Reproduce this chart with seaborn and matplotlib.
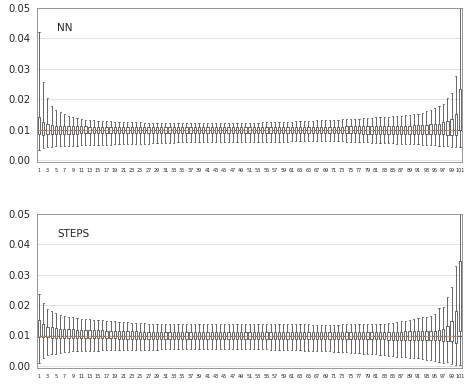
import numpy as np
import pandas as pd
import matplotlib
matplotlib.use("Agg")
import matplotlib.pyplot as plt
import seaborn as sns

# positions 1..101
positions = list(range(1, 102))

# NN panel: box stats per position
nn_hi = [0.0421, 0.0257, 0.0204, 0.0178, 0.0164, 0.0157, 0.0150, 0.0145, 0.0143, 0.0138,
         0.0135, 0.0133, 0.0132, 0.0131, 0.0130, 0.0128, 0.0127, 0.0127, 0.0126, 0.0126,
         0.0125, 0.0125, 0.0124, 0.0124, 0.0124, 0.0123, 0.0123, 0.0123, 0.0122, 0.0122,
         0.0122, 0.0122, 0.0122, 0.0122, 0.0121, 0.0122, 0.0122, 0.0122, 0.0121, 0.0122,
         0.0122, 0.0122, 0.0122, 0.0122, 0.0122, 0.0122, 0.0123, 0.0123, 0.0123, 0.0123,
         0.0123, 0.0123, 0.0123, 0.0124, 0.0124, 0.0124, 0.0124, 0.0125, 0.0125, 0.0125,
         0.0126, 0.0127, 0.0128, 0.0129, 0.0129, 0.0130, 0.0131, 0.0131, 0.0132, 0.0132,
         0.0133, 0.0133, 0.0134, 0.0134, 0.0135, 0.0136, 0.0136, 0.0137, 0.0138, 0.0139,
         0.0140, 0.0141, 0.0142, 0.0143, 0.0144, 0.0145, 0.0146, 0.0147, 0.0148, 0.0150,
         0.0153, 0.0155, 0.0161, 0.0164, 0.0172, 0.0178, 0.0184, 0.0204, 0.0220, 0.0276,
         0.0650]
nn_q3 = [0.0141, 0.0125, 0.0117, 0.0114, 0.0113, 0.0112, 0.0111, 0.0111, 0.0111, 0.0111,
         0.0111, 0.0111, 0.0110, 0.0110, 0.0110, 0.0110, 0.0110, 0.0110, 0.0110, 0.0110,
         0.0110, 0.0110, 0.0110, 0.0110, 0.0110, 0.0110, 0.0110, 0.0110, 0.0110, 0.0110,
         0.0110, 0.0110, 0.0110, 0.0110, 0.0110, 0.0110, 0.0110, 0.0110, 0.0110, 0.0110,
         0.0110, 0.0110, 0.0110, 0.0110, 0.0110, 0.0110, 0.0110, 0.0110, 0.0110, 0.0110,
         0.0110, 0.0110, 0.0110, 0.0110, 0.0110, 0.0110, 0.0110, 0.0110, 0.0110, 0.0110,
         0.0110, 0.0110, 0.0110, 0.0110, 0.0110, 0.0110, 0.0110, 0.0110, 0.0110, 0.0110,
         0.0110, 0.0110, 0.0110, 0.0111, 0.0111, 0.0111, 0.0111, 0.0111, 0.0111, 0.0111,
         0.0111, 0.0111, 0.0112, 0.0112, 0.0112, 0.0112, 0.0113, 0.0113, 0.0113, 0.0114,
         0.0114, 0.0115, 0.0116, 0.0117, 0.0118, 0.0120, 0.0124, 0.0127, 0.0135, 0.0151,
         0.0233]
nn_med = [0.0099, 0.0099, 0.0099, 0.0099, 0.0099, 0.0099, 0.0099, 0.0099, 0.0099, 0.0099,
          0.0099, 0.0099, 0.0099, 0.0099, 0.0099, 0.0099, 0.0099, 0.0099, 0.0099, 0.0099,
          0.0099, 0.0099, 0.0099, 0.0099, 0.0099, 0.0099, 0.0099, 0.0099, 0.0099, 0.0099,
          0.0099, 0.0099, 0.0099, 0.0099, 0.0099, 0.0099, 0.0099, 0.0099, 0.0099, 0.0099,
          0.0099, 0.0099, 0.0099, 0.0099, 0.0099, 0.0099, 0.0099, 0.0099, 0.0099, 0.0099,
          0.0099, 0.0099, 0.0099, 0.0099, 0.0099, 0.0099, 0.0099, 0.0099, 0.0099, 0.0099,
          0.0099, 0.0099, 0.0099, 0.0099, 0.0099, 0.0099, 0.0099, 0.0099, 0.0099, 0.0099,
          0.0099, 0.0099, 0.0099, 0.0099, 0.0099, 0.0099, 0.0099, 0.0099, 0.0099, 0.0099,
          0.0099, 0.0099, 0.0099, 0.0099, 0.0099, 0.0099, 0.0099, 0.0099, 0.0099, 0.0099,
          0.0099, 0.0099, 0.0099, 0.0099, 0.0099, 0.0099, 0.0099, 0.0099, 0.0099, 0.0099,
          0.0130]
nn_q1 = [0.0085, 0.0083, 0.0086, 0.0086, 0.0087, 0.0087, 0.0087, 0.0087, 0.0087, 0.0087,
         0.0088, 0.0088, 0.0088, 0.0088, 0.0088, 0.0088, 0.0088, 0.0088, 0.0088, 0.0088,
         0.0088, 0.0088, 0.0088, 0.0088, 0.0088, 0.0088, 0.0088, 0.0088, 0.0088, 0.0088,
         0.0088, 0.0088, 0.0088, 0.0088, 0.0088, 0.0088, 0.0088, 0.0088, 0.0088, 0.0088,
         0.0088, 0.0088, 0.0088, 0.0088, 0.0088, 0.0088, 0.0088, 0.0088, 0.0088, 0.0088,
         0.0088, 0.0088, 0.0088, 0.0088, 0.0088, 0.0088, 0.0088, 0.0088, 0.0088, 0.0088,
         0.0088, 0.0088, 0.0088, 0.0088, 0.0088, 0.0088, 0.0088, 0.0088, 0.0088, 0.0088,
         0.0088, 0.0088, 0.0088, 0.0088, 0.0088, 0.0088, 0.0088, 0.0087, 0.0087, 0.0087,
         0.0087, 0.0087, 0.0087, 0.0087, 0.0087, 0.0087, 0.0086, 0.0086, 0.0086, 0.0086,
         0.0086, 0.0085, 0.0085, 0.0085, 0.0084, 0.0084, 0.0084, 0.0083, 0.0083, 0.0082,
         0.0098]
nn_lo = [0.0033, 0.0040, 0.0044, 0.0044, 0.0045, 0.0045, 0.0046, 0.0046, 0.0047, 0.0047,
         0.0048, 0.0048, 0.0049, 0.0049, 0.0050, 0.0050, 0.0051, 0.0051, 0.0052, 0.0052,
         0.0052, 0.0053, 0.0053, 0.0053, 0.0054, 0.0054, 0.0054, 0.0055, 0.0055, 0.0056,
         0.0056, 0.0057, 0.0057, 0.0058, 0.0058, 0.0058, 0.0059, 0.0059, 0.0059, 0.0060,
         0.0060, 0.0060, 0.0060, 0.0060, 0.0060, 0.0060, 0.0060, 0.0060, 0.0060, 0.0060,
         0.0060, 0.0060, 0.0060, 0.0060, 0.0060, 0.0060, 0.0060, 0.0060, 0.0060, 0.0060,
         0.0061, 0.0061, 0.0061, 0.0062, 0.0062, 0.0062, 0.0063, 0.0063, 0.0063, 0.0062,
         0.0062, 0.0061, 0.0061, 0.0060, 0.0060, 0.0059, 0.0059, 0.0058, 0.0058, 0.0057,
         0.0057, 0.0056, 0.0056, 0.0055, 0.0055, 0.0054, 0.0054, 0.0053, 0.0053, 0.0052,
         0.0052, 0.0051, 0.0050, 0.0049, 0.0048, 0.0047, 0.0046, 0.0045, 0.0044, 0.0043,
         0.0043]

# STEPS panel
st_hi = [0.0236, 0.0206, 0.0187, 0.0179, 0.0173, 0.0166, 0.0164, 0.0162, 0.0160, 0.0157,
         0.0155, 0.0154, 0.0153, 0.0152, 0.0152, 0.0150, 0.0148, 0.0147, 0.0146, 0.0145,
         0.0144, 0.0143, 0.0142, 0.0141, 0.0141, 0.0140, 0.0139, 0.0138, 0.0137, 0.0138,
         0.0139, 0.0139, 0.0139, 0.0139, 0.0138, 0.0139, 0.0139, 0.0138, 0.0138, 0.0137,
         0.0138, 0.0137, 0.0137, 0.0137, 0.0137, 0.0136, 0.0137, 0.0137, 0.0136, 0.0136,
         0.0136, 0.0136, 0.0136, 0.0136, 0.0136, 0.0136, 0.0136, 0.0136, 0.0136, 0.0136,
         0.0136, 0.0136, 0.0136, 0.0136, 0.0136, 0.0135, 0.0135, 0.0135, 0.0135, 0.0135,
         0.0135, 0.0135, 0.0136, 0.0136, 0.0136, 0.0137, 0.0137, 0.0137, 0.0138, 0.0138,
         0.0138, 0.0139, 0.0139, 0.0140, 0.0141, 0.0144, 0.0146, 0.0148, 0.0151, 0.0154,
         0.0157, 0.0160, 0.0162, 0.0164, 0.0170, 0.0190, 0.0193, 0.0225, 0.0259, 0.0329,
         0.0650]
st_q3 = [0.0151, 0.0137, 0.0129, 0.0126, 0.0124, 0.0122, 0.0121, 0.0120, 0.0120, 0.0119,
         0.0118, 0.0118, 0.0117, 0.0117, 0.0116, 0.0116, 0.0115, 0.0115, 0.0114, 0.0114,
         0.0114, 0.0113, 0.0113, 0.0113, 0.0112, 0.0112, 0.0112, 0.0111, 0.0111, 0.0111,
         0.0111, 0.0110, 0.0110, 0.0110, 0.0110, 0.0110, 0.0110, 0.0110, 0.0110, 0.0110,
         0.0110, 0.0110, 0.0110, 0.0110, 0.0110, 0.0110, 0.0110, 0.0110, 0.0110, 0.0110,
         0.0110, 0.0110, 0.0110, 0.0110, 0.0110, 0.0110, 0.0110, 0.0110, 0.0110, 0.0110,
         0.0110, 0.0110, 0.0110, 0.0110, 0.0110, 0.0110, 0.0110, 0.0110, 0.0110, 0.0110,
         0.0110, 0.0110, 0.0110, 0.0110, 0.0110, 0.0110, 0.0110, 0.0110, 0.0111, 0.0111,
         0.0111, 0.0111, 0.0111, 0.0112, 0.0112, 0.0112, 0.0112, 0.0113, 0.0113, 0.0113,
         0.0114, 0.0114, 0.0114, 0.0115, 0.0115, 0.0116, 0.0120, 0.0132, 0.0146, 0.0181,
         0.0345]
st_med = [0.0099, 0.0099, 0.0099, 0.0099, 0.0099, 0.0099, 0.0099, 0.0099, 0.0099, 0.0099,
          0.0099, 0.0099, 0.0099, 0.0099, 0.0099, 0.0099, 0.0099, 0.0099, 0.0099, 0.0099,
          0.0099, 0.0099, 0.0099, 0.0099, 0.0099, 0.0099, 0.0099, 0.0099, 0.0099, 0.0099,
          0.0099, 0.0099, 0.0099, 0.0099, 0.0099, 0.0099, 0.0099, 0.0099, 0.0099, 0.0099,
          0.0099, 0.0099, 0.0099, 0.0099, 0.0099, 0.0099, 0.0099, 0.0099, 0.0099, 0.0099,
          0.0099, 0.0099, 0.0099, 0.0099, 0.0099, 0.0099, 0.0099, 0.0099, 0.0099, 0.0099,
          0.0099, 0.0099, 0.0099, 0.0099, 0.0099, 0.0099, 0.0099, 0.0099, 0.0099, 0.0099,
          0.0099, 0.0099, 0.0099, 0.0099, 0.0099, 0.0099, 0.0099, 0.0099, 0.0099, 0.0099,
          0.0099, 0.0099, 0.0099, 0.0099, 0.0099, 0.0099, 0.0099, 0.0099, 0.0099, 0.0099,
          0.0099, 0.0099, 0.0099, 0.0099, 0.0099, 0.0099, 0.0099, 0.0099, 0.0099, 0.0099,
          0.0160]
st_q1 = [0.0096, 0.0094, 0.0093, 0.0092, 0.0092, 0.0091, 0.0091, 0.0091, 0.0090, 0.0090,
         0.0090, 0.0090, 0.0090, 0.0090, 0.0090, 0.0090, 0.0090, 0.0090, 0.0090, 0.0089,
         0.0089, 0.0089, 0.0089, 0.0089, 0.0089, 0.0089, 0.0089, 0.0089, 0.0089, 0.0089,
         0.0089, 0.0088, 0.0088, 0.0088, 0.0088, 0.0088, 0.0088, 0.0088, 0.0088, 0.0088,
         0.0088, 0.0088, 0.0088, 0.0088, 0.0088, 0.0088, 0.0088, 0.0088, 0.0088, 0.0088,
         0.0088, 0.0088, 0.0088, 0.0088, 0.0088, 0.0088, 0.0088, 0.0088, 0.0088, 0.0088,
         0.0088, 0.0088, 0.0088, 0.0088, 0.0088, 0.0088, 0.0088, 0.0088, 0.0088, 0.0088,
         0.0088, 0.0088, 0.0088, 0.0088, 0.0087, 0.0087, 0.0087, 0.0087, 0.0087, 0.0087,
         0.0087, 0.0087, 0.0087, 0.0086, 0.0086, 0.0086, 0.0086, 0.0086, 0.0085, 0.0085,
         0.0085, 0.0085, 0.0085, 0.0084, 0.0084, 0.0084, 0.0083, 0.0082, 0.0080, 0.0076,
         0.0113]
st_lo = [0.0010, 0.0026, 0.0034, 0.0037, 0.0040, 0.0043, 0.0045, 0.0046, 0.0047, 0.0048,
         0.0048, 0.0049, 0.0049, 0.0050, 0.0050, 0.0051, 0.0051, 0.0051, 0.0052, 0.0052,
         0.0052, 0.0052, 0.0053, 0.0053, 0.0053, 0.0053, 0.0053, 0.0053, 0.0053, 0.0054,
         0.0054, 0.0054, 0.0054, 0.0054, 0.0055, 0.0055, 0.0055, 0.0055, 0.0055, 0.0055,
         0.0055, 0.0055, 0.0055, 0.0055, 0.0055, 0.0055, 0.0055, 0.0055, 0.0055, 0.0055,
         0.0055, 0.0054, 0.0054, 0.0054, 0.0054, 0.0053, 0.0053, 0.0053, 0.0052, 0.0052,
         0.0052, 0.0051, 0.0051, 0.0050, 0.0050, 0.0049, 0.0049, 0.0048, 0.0047, 0.0047,
         0.0046, 0.0045, 0.0045, 0.0044, 0.0043, 0.0042, 0.0041, 0.0040, 0.0039, 0.0038,
         0.0037, 0.0036, 0.0034, 0.0033, 0.0031, 0.0030, 0.0029, 0.0028, 0.0026, 0.0025,
         0.0024, 0.0022, 0.0020, 0.0018, 0.0014, 0.0012, 0.0008, 0.0013, 0.0007, 0.0003,
         0.0003]

panel_names = ["NN", "STEPS"]
xtick_labels = [str(p) for p in positions[::2]]


def long_frame(lo, q1, med, q3, hi):
    # five points per position -> quartiles / min / max match the read stats
    rows = []
    for i, p in enumerate(positions):
        for v in (lo[i], q1[i], med[i], q3[i], hi[i]):
            rows.append((p, v))
    return pd.DataFrame(rows, columns=["pos", "val"])


frames = [long_frame(nn_lo, nn_q1, nn_med, nn_q3, nn_hi),
          long_frame(st_lo, st_q1, st_med, st_q3, st_hi)]

sns.set_style("whitegrid")
plt.rcParams["font.family"] = ["DejaVu Sans"]

fig = plt.figure(figsize=(4.74, 3.86), dpi=100)
axes = [fig.add_axes([0.078, 0.580, 0.897, 0.399]),
        fig.add_axes([0.078, 0.047, 0.897, 0.399])]

for ax, df, name in zip(axes, frames, panel_names):
    ax.axhline(1 / 101, color="0.3", lw=0.6, zorder=1)
    sns.boxplot(data=df, x="pos", y="val", order=positions, ax=ax,
                whis=(0, 100), width=0.55, color="white", linecolor="0.3",
                linewidth=0.6, showfliers=False,
                medianprops=dict(color="#e0a07a", linewidth=0.8))
    ax.set_ylim(-0.0007, 0.05)
    ax.set_xlim(-0.5, 100.5)
    ax.set_yticks([0.0, 0.01, 0.02, 0.03, 0.04, 0.05])
    ax.set_yticklabels(["0.00", "0.01", "0.02", "0.03", "0.04", "0.05"])
    ax.set_xticks(range(0, 101, 2))
    ax.set_xticklabels(xtick_labels, fontsize=3.5)
    ax.tick_params(axis="y", labelsize=7.2, pad=1)
    ax.tick_params(axis="x", pad=1)
    ax.set_xlabel("")
    ax.set_ylabel("")
    ax.grid(axis="y", color="#dddddd", lw=0.6)
    for s in ax.spines.values():
        s.set_color("#888888")
        s.set_linewidth(0.6)
    ax.text(0.047, 0.87, name, transform=ax.transAxes, fontsize=7.5,
            va="center", ha="left")

fig.savefig("out.png", dpi=100)
